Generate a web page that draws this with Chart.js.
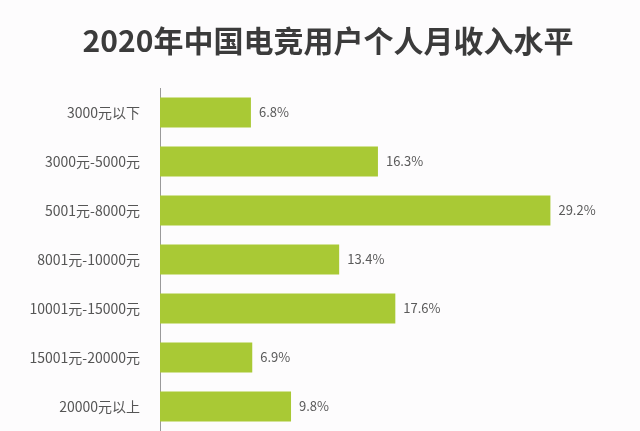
<!DOCTYPE html>
<html>
<head>
<meta charset="utf-8">
<script src="https://cdn.jsdelivr.net/npm/chart.js@4"></script>
<style>
  html, body { margin: 0; padding: 0; background: #fdfcfd; }
  #wrap { width: 640px; height: 431px; }
</style>
</head>
<body>
<div id="wrap"><canvas id="grafica"></canvas></div>
<script>
// Niveles de ingreso (eje y) y porcentajes
const categorias = [
  "3000元以下",
  "3000元-5000元",
  "5001元-8000元",
  "8001元-10000元",
  "10001元-15000元",
  "15001元-20000元",
  "20000元以上",
];
const porcentajes = [6.8, 16.3, 29.2, 13.4, 17.6, 6.9, 9.8];
const titulo = "2020年中国电竞用户个人月收入水平";

const fuente = "'Noto Sans CJK SC', 'Noto Sans', sans-serif";

// Etiquetas de valor al final de cada barra
const etiquetasValor = {
  id: "etiquetasValor",
  afterDatasetsDraw(chart) {
    const ctx = chart.ctx;
    const meta = chart.getDatasetMeta(0);
    ctx.save();
    ctx.font = "13px " + fuente;
    ctx.fillStyle = "#5a5a5a";
    ctx.textAlign = "left";
    ctx.textBaseline = "middle";
    meta.data.forEach((bar, i) => {
      ctx.fillText(porcentajes[i].toFixed(1) + "%", bar.x + 8, bar.y);
    });
    ctx.restore();
  },
};

new Chart(document.getElementById("grafica"), {
  type: "bar",
  data: {
    labels: categorias,
    datasets: [
      {
        data: porcentajes,
        backgroundColor: "#a9c935",
        categoryPercentage: 0.61,
        barPercentage: 1,
      },
    ],
  },
  options: {
    indexAxis: "y",
    responsive: true,
    maintainAspectRatio: false,
    animation: false,
    layout: { padding: { left: 16, right: 0, top: 0, bottom: 0 } },
    plugins: {
      legend: { display: false },
      tooltip: { enabled: false },
      title: {
        display: true,
        text: titulo,
        color: "#3b3b3b",
        font: { family: fuente, size: 30, weight: "bold", lineHeight: 1.2 },
        padding: { top: 23, bottom: 29 },
      },
    },
    scales: {
      x: {
        display: false,
        min: 0,
        max: 35.9,
      },
      y: {
        grid: { display: false },
        border: { display: true, color: "#9a9a9a", width: 1 },
        ticks: {
          color: "#555555",
          padding: 12,
          font: { family: fuente, size: 14 },
        },
        afterFit(scale) {
          scale.width = 144;
          // sin margen extra arriba/abajo: el eje llega al borde inferior
          scale.paddingTop = 0;
          scale.paddingBottom = 0;
        },
      },
    },
  },
  plugins: [etiquetasValor],
});
</script>
</body>
</html>
